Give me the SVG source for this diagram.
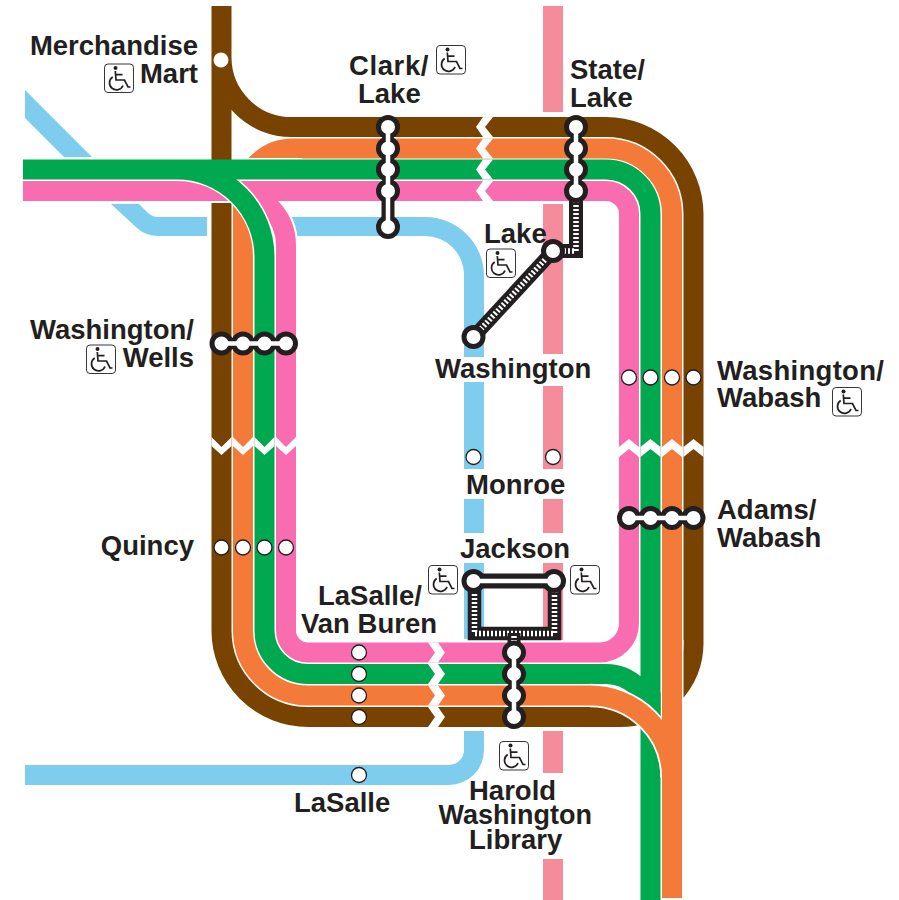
<svg xmlns="http://www.w3.org/2000/svg" width="899" height="900" viewBox="0 0 899 900">
<style>
.band{fill:none;stroke-width:20}
.cas{fill:none;stroke:#fff;stroke-width:24}
.br{stroke:#784300}.or{stroke:#f47a3a}.gr{stroke:#00a850}.pk{stroke:#f96db0}
.bl{fill:#7fcdee}.pp{fill:#f48c9b}
.wt{fill:#fff}
.t{font-family:"Liberation Sans",Arial,sans-serif;font-weight:700;font-size:27.5px;fill:#231f20}
.e{text-anchor:end}
.s{fill:#fff;stroke:#231f20;stroke-width:1.3}
.x{fill:#fff;stroke:#231f20;stroke-width:5}
.ld{fill:none;stroke:#231f20;stroke-width:14;stroke-linejoin:miter}
.lw{fill:none;stroke:#fff;stroke-width:4.5}
.lh{fill:none;stroke:#fff;stroke-width:5.5;stroke-dasharray:2 2}
.lt{fill:none;stroke:#231f20;stroke-width:11}
</style>
<defs>
<g id="ada">
<rect x="0.5" y="0.5" width="29" height="28.5" rx="3.5" fill="#fff" stroke="#231f20" stroke-width="0.9"/>
<circle cx="11.5" cy="4.6" r="2" fill="#231f20"/>
<path d="M11.3,7.5L12,16.5H20.5L24,23.5H26.5M11.6,11.2H18.5M8.7,13.5A7,7 0 1 0 19,22" fill="none" stroke="#231f20" stroke-width="1.7"/>
</g>
<polygon id="chL" points="483,-10 476,0 483,10 493,10 485,0 493,-10"/>
<polygon id="chR" points="428,-10 435,0 428,10 438,10 445,0 438,-10"/>
<polygon id="chD" points="-10,0 0,10 10,0 10,9 0,18 -10,9"/>
<polygon id="chU" points="-10,8 0,0 10,8 10,18 0,10 -10,18"/>
</defs>
<g id="connectors">
<g id="blue-line">
<polygon class="bl" points="25,90 92,157 64,157 25,118"/>
<path class="bl" d="M111,204H139L147,212Q152,217 158,217H207V236H158Q146,236 137,228Z"/>
<path class="bl" d="M290,217H425A59,59 0 0 1 484,276V357H464V276A39,39 0 0 0 425,236H290Z"/>
<rect class="bl" x="464" y="382" width="20" height="87"/>
<rect class="bl" x="464" y="499" width="20" height="34"/>
<rect class="bl" x="464" y="563" width="20" height="76"/>
<path class="bl" d="M464,731H484V750A35,35 0 0 1 449,785H25V765H449A15,15 0 0 0 464,750Z"/>
</g>
<g id="pink-line">
<rect class="pp" x="543" y="6" width="20" height="106"/>
<rect class="pp" x="543" y="204" width="20" height="150"/>
<rect class="pp" x="543" y="386" width="20" height="83"/>
<rect class="pp" x="543" y="499" width="20" height="34"/>
<rect class="pp" x="543" y="563" width="20" height="77"/>
<rect class="pp" x="543" y="731" width="20" height="42"/>
<rect class="pp" x="543" y="859" width="20" height="41"/>
</g>
<path id="brown-line" class="band br" d="M221.5,6V630.5A86.5,86.5 0 0 0 308,717H620A73.5,73.5 0 0 0 693.5,643.5V214A87.5,87.5 0 0 0 606,127H291.5A70,70 0 0 1 221.5,57"/>
<path id="orange-line" class="band or" d="M293,148.5H606A66,66 0 0 1 672,214.5V700M293,148.5A50,50 0 0 0 243,198.5V630.5A65,65 0 0 0 308,695.5H590"/>
<rect class="wt" x="232" y="158" width="70" height="2"/>
<path class="cas" d="M23,191H606A23,23 0 0 1 629,214V623A29,29.5 0 0 1 600,652.5H308A22,22 0 0 1 286,630.5V245.5A54.5,54.5 0 0 0 231.5,191"/>
<path id="pink-line-2" class="band pk" d="M23,191H606A23,23 0 0 1 629,214V623A29,29.5 0 0 1 600,652.5H308A22,22 0 0 1 286,630.5V245.5A54.5,54.5 0 0 0 231.5,191"/>
<rect class="wt" x="660.5" y="640" width="1.5" height="80"/>
<rect class="wt" x="682" y="640" width="1.5" height="70"/>
<path class="cas" style="stroke-width:23" d="M177,169.5A87.5,87.5 0 0 1 264.5,257"/>
<path id="green-line" class="band gr" d="M23,169.5H606A44.5,44.5 0 0 1 650.5,214V900M177,169.5A87.5,87.5 0 0 1 264.5,257V630.5A43.5,43.5 0 0 0 308,674H606A44.5,44.5 0 0 1 650.5,718.5"/>
<path class="cas" style="stroke-width:23.5" d="M590,695.5A82,82 0 0 1 672,777.5"/>
<path id="orange-line-2" class="band or" d="M590,695.5A82,82 0 0 1 672,777.5M672,640V898"/>
<g id="breaks" class="wt">
<use href="#chL" y="127"/><use href="#chL" y="148.5"/><use href="#chL" y="169.5"/><use href="#chL" y="191"/>
<use href="#chR" y="652.5"/><use href="#chR" y="674"/><use href="#chR" y="695.5"/><use href="#chR" y="717"/>
<use href="#chD" x="221.5" y="437"/><use href="#chD" x="243" y="437"/><use href="#chD" x="264.5" y="437"/><use href="#chD" x="286" y="437"/>
<use href="#chU" x="629" y="439"/><use href="#chU" x="650.5" y="439"/><use href="#chU" x="672" y="439"/><use href="#chU" x="693.5" y="439"/>
</g>
</g>
<g id="merchandise-mart">
<circle class="wt" cx="221" cy="60" r="7.5"/>
<text class="t e" x="198" y="55">Merchandise</text><text class="t e" x="198" y="83">Mart</text>
<use href="#ada" x="104" y="63.5"/>
</g>
<g id="clark-lake">
<path class="lt" d="M388,127V191"/><path class="ld" style="stroke-width:13" d="M388,191V227"/>
<circle class="x" cx="388" cy="127" r="9.5"/><circle class="x" cx="388" cy="148.5" r="9.5"/><circle class="x" cx="388" cy="169.5" r="9.5"/><circle class="x" cx="388" cy="191" r="9.5"/><circle class="x" cx="388" cy="227" r="9.5"/>
<path class="lw" d="M388,127V227"/>
<text class="t" x="349" y="75" style="letter-spacing:.6px">Clark/</text><text class="t" x="358" y="103">Lake</text>
<use href="#ada" x="436" y="45"/>
</g>
<g id="state-lake">
<path class="ld" d="M576,191V251H553"/>
<path class="lt" d="M576,127V191"/>
<path class="lh" d="M576,197V251H560"/>
<circle class="x" cx="576" cy="127" r="9.5"/><circle class="x" cx="576" cy="148.5" r="9.5"/><circle class="x" cx="576" cy="169.5" r="9.5"/><circle class="x" cx="576" cy="191" r="9.5"/>
<path class="lw" d="M576,127V191"/>
<text class="t" x="570" y="79">State/</text><text class="t" x="570" y="107">Lake</text>
</g>
<g id="lake-washington">
<path class="ld" d="M553,251L473.5,337"/>
<path class="lh" d="M553,251L473.5,337"/>
<circle class="x" cx="553" cy="251" r="9.5"/><circle class="x" cx="473.5" cy="337" r="9.5"/>
<text class="t" x="484" y="243">Lake</text><text class="t" x="435" y="378">Washington</text>
<use href="#ada" x="486" y="248.5"/>
</g>
<g id="washington-wells">
<path class="lt" d="M221.5,343.5H286"/>
<circle class="x" cx="221.5" cy="343.5" r="9.5"/><circle class="x" cx="243" cy="343.5" r="9.5"/><circle class="x" cx="264.5" cy="343.5" r="9.5"/><circle class="x" cx="286" cy="343.5" r="9.5"/>
<path class="lw" d="M221.5,343.5H286"/>
<text class="t" x="30" y="339">Washington/</text><text class="t e" x="194" y="367">Wells</text>
<use href="#ada" x="86" y="344.5"/>
</g>
<g id="washington-wabash">
<circle class="s" cx="629" cy="377.5" r="7.5"/><circle class="s" cx="650.5" cy="377.5" r="7.5"/><circle class="s" cx="672" cy="377.5" r="7.5"/><circle class="s" cx="693.5" cy="377.5" r="7.5"/>
<text class="t" x="717" y="380" style="letter-spacing:.3px">Washington/</text><text class="t" x="717" y="407">Wabash</text>
<use href="#ada" x="832" y="387"/>
</g>
<g id="monroe">
<circle class="s" cx="473.5" cy="457" r="7.5"/><circle class="s" cx="553" cy="457" r="7.5"/>
<text class="t" x="466" y="494">Monroe</text>
</g>
<g id="adams-wabash">
<path class="lt" d="M629,518H693.5"/>
<circle class="x" cx="629" cy="518" r="9.5"/><circle class="x" cx="650.5" cy="518" r="9.5"/><circle class="x" cx="672" cy="518" r="9.5"/><circle class="x" cx="693.5" cy="518" r="9.5"/>
<path class="lw" d="M629,518H693.5"/>
<text class="t" x="717" y="519">Adams/</text><text class="t" x="717" y="547">Wabash</text>
</g>
<g id="quincy">
<circle class="s" cx="221.5" cy="547.5" r="7.5"/><circle class="s" cx="243" cy="547.5" r="7.5"/><circle class="s" cx="264.5" cy="547.5" r="7.5"/><circle class="s" cx="286" cy="547.5" r="7.5"/>
<text class="t e" x="194" y="555">Quincy</text>
</g>
<g id="lasalle-van-buren">
<circle class="s" cx="359" cy="652.5" r="7.5"/><circle class="s" cx="359" cy="674" r="7.5"/><circle class="s" cx="359" cy="695.5" r="7.5"/><circle class="s" cx="359" cy="717" r="7.5"/>
<text class="t" x="318" y="605">LaSalle/</text><text class="t" x="301" y="633">Van Buren</text>
</g>
<g id="lasalle">
<circle class="s" cx="359" cy="775" r="7.5"/>
<text class="t" x="294" y="812">LaSalle</text>
</g>
<g id="jackson">
<path class="ld" style="stroke-width:13.5" d="M474.5,581V633.5H554.5V581"/>
<path class="ld" style="stroke-width:15" d="M474,581H555"/>
<path class="lh" d="M474.5,590V633.5H554.5V590"/>
<circle class="x" cx="473.5" cy="581" r="9.5"/><circle class="x" cx="554" cy="581" r="9.5"/>
<path class="lw" d="M473.5,581H554"/>
<text class="t" x="460" y="558">Jackson</text>
<use href="#ada" x="428" y="565"/><use href="#ada" x="570" y="565"/>
</g>
<g id="harold-washington-library">
<path class="ld" style="stroke-width:13" d="M514,633V652.5"/>
<path class="lt" d="M514,652.5V717"/>
<path class="lh" d="M514,636V645"/>
<circle class="x" cx="514" cy="652.5" r="9.5"/><circle class="x" cx="514" cy="674" r="9.5"/><circle class="x" cx="514" cy="695.5" r="9.5"/><circle class="x" cx="514" cy="717" r="9.5"/>
<path class="lw" d="M514,652.5V717"/>
<text class="t" x="469" y="800">Harold</text><text class="t" x="438.5" y="824" style="font-size:27px">Washington</text><text class="t" x="469" y="849">Library</text>
<use href="#ada" x="499" y="741"/>
</g>
</svg>
